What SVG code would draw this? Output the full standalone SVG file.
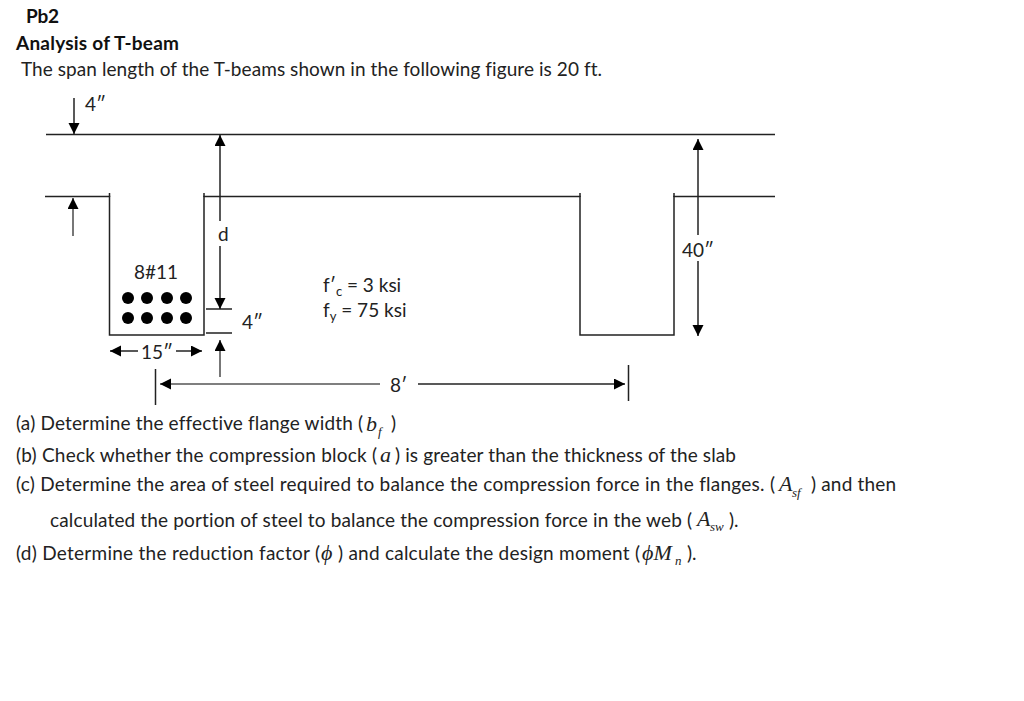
<svg xmlns="http://www.w3.org/2000/svg" width="1024" height="701" viewBox="0 0 1024 701">
<style>
text{font-family:"Lato","Open Sans",sans-serif;font-size:19px;fill:#222;font-variant-ligatures:none}
.b{font-weight:700;fill:#111}
.m{font-family:"Liberation Serif",serif;font-style:italic;font-size:22px}
.s{font-family:"Liberation Serif",serif;font-style:italic;font-size:13px}
.l{fill:none;stroke:#222;stroke-width:1.5}
.a{fill:none;stroke:#222;stroke-width:1.5}
.g{fill:none;stroke:#555;stroke-width:1.6}
.h{fill:#000}
</style>
<defs>
<marker id="ah" markerUnits="userSpaceOnUse" markerWidth="12" markerHeight="12" refX="11" refY="5.500" orient="auto-start-reverse"><path class="h" d="M0 0L11 5.500L0 11Z"/></marker>
</defs>
<rect width="1024" height="701" fill="#fff"/>
<text id="title" class="b" x="26" y="23" font-size="18" textLength="33">Pb2</text>
<text id="subtitle" class="b" x="16" y="50" textLength="163">Analysis of T-beam</text>
<text id="intro" x="21" y="76" textLength="581">The span length of the T-beams shown in the following figure is 20 ft.</text>
<g id="beam">
<path class="l" d="M46 134.500H775"/>
<path class="l" d="M45 196.500H109.500V335H204V196.500H580V335H674V196.500H775"/>
<path class="l" d="M109.500 193V197M204 193V197M580 193V197M674 193V197"/>
<path class="l" d="M206 309H232M206 333H232"/>
<path class="l" d="M155.500 369V405M628.500 365V401"/>
</g>
<g id="bars" class="h">
<circle cx="128" cy="298" r="6"/><circle cx="147" cy="298" r="6"/><circle cx="167" cy="298" r="6"/><circle cx="186" cy="298" r="6"/>
<circle cx="128" cy="318" r="6"/><circle cx="147" cy="318" r="6"/><circle cx="167" cy="318" r="6"/><circle cx="186" cy="318" r="6"/>
</g>
<g id="connectors">
<path class="a" marker-end="url(#ah)" d="M74 98V134"/>
<path class="g" marker-end="url(#ah)" d="M73 236V198"/>
<path class="a" marker-end="url(#ah)" d="M220 221V135"/>
<path class="a" marker-end="url(#ah)" d="M220 246V309"/>
<path class="g" marker-end="url(#ah)" d="M220 377V340"/>
<path class="a" marker-end="url(#ah)" d="M698 235V139"/>
<path class="a" marker-end="url(#ah)" d="M698 261V336"/>
<path class="a" marker-end="url(#ah)" d="M138 351H110"/>
<path class="a" marker-end="url(#ah)" d="M176 351H202"/>
<path class="g" marker-end="url(#ah)" d="M380 384H160"/>
<path class="a" marker-end="url(#ah)" d="M418 384H625"/>
</g>
<g id="dim-labels">
<text x="85" y="111">4″</text>
<text x="218" y="241">d</text>
<text x="134" y="279" textLength="44">8#11</text>
<text x="242" y="329">4″</text>
<text x="141" y="359">15″</text>
<text x="390" y="392">8′</text>
<text x="682" y="257">40″</text>
</g>
<g id="material">
<text x="323" y="292">f′<tspan font-size="13" dy="4">c</tspan><tspan dy="-4"> = 3 ksi</tspan></text>
<text x="323" y="317">f<tspan font-size="13" dy="4">y</tspan><tspan dy="-4"> = 75 ksi</tspan></text>
</g>
<g id="questions">
<text x="16" y="430" textLength="347">(a) Determine the effective flange width (</text>
<text class="m" x="366" y="431">b</text><text class="s" x="378" y="436">f</text>
<text x="391" y="430">)</text>
<text x="16" y="462" textLength="361">(b) Check whether the compression block (</text>
<text class="m" x="380" y="462">a</text>
<text x="395" y="462" textLength="341">) is greater than the thickness of the slab</text>
<text x="16" y="491" textLength="759">(c) Determine the area of steel required to balance the compression force in the flanges. (</text>
<text class="m" x="779" y="491">A</text><text class="s" x="792" y="497">sf</text>
<text x="811" y="491" textLength="85">) and then</text>
<text x="50" y="527" textLength="642">calculated the portion of steel to balance the compression force in the web (</text>
<text class="m" x="697" y="526">A</text><text class="s" x="710" y="531">sw</text>
<text x="729" y="527">).</text>
<text x="16" y="560" textLength="304">(d) Determine the reduction factor (</text>
<text class="m" x="321" y="560">ϕ</text>
<text x="338" y="560" textLength="302">) and calculate the design moment (</text>
<text class="m" x="642" y="560">ϕM</text><text class="s" x="675" y="565">n</text>
<text x="687" y="560">).</text>
</g>
</svg>
